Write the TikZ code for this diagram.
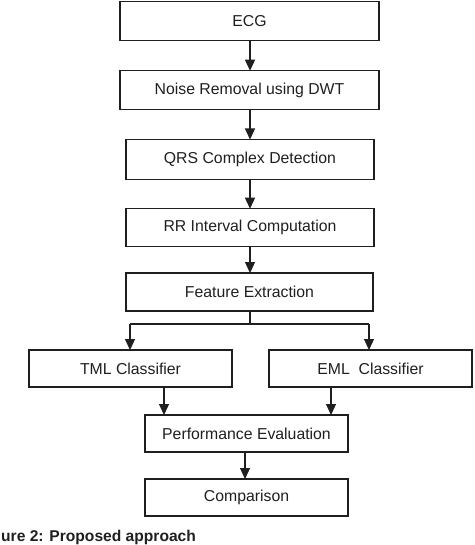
\documentclass[tikz,border=0pt]{standalone}
\usepackage{fontspec}
\setmainfont{Liberation Sans}
\usetikzlibrary{arrows.meta}
\begin{document}
\begin{tikzpicture}[x=1pt,y=-1pt,
  box/.style={draw=black!88,line width=1.2pt,inner sep=0pt,outer sep=0pt,font=\fontsize{15.8}{18}\selectfont,text=black!88},
  arr/.style={draw=black!88,line width=1.2pt,-{Triangle[length=11pt,width=10pt]}},
  ln/.style={draw=black!88,line width=1.2pt}]
\useasboundingbox (0,0) rectangle (474,545);
\node[box,minimum width=259pt,minimum height=38.5pt] (ecg) at (249.5,21) {ECG};
\node[box,minimum width=259pt,minimum height=38.5pt] (noise) at (249.5,90) {Noise Removal using DWT};
\node[box,minimum width=248pt,minimum height=40pt] (qrs) at (250,159.5) {QRS Complex Detection};
\node[box,minimum width=248pt,minimum height=37.5pt] (rr) at (250,227.5) {RR Interval Computation};
\node[box,minimum width=247pt,minimum height=38pt] (feat) at (249.5,292) {Feature Extraction};
\node[box,minimum width=203pt,minimum height=37pt] (tml) at (130.5,368.5) {TML Classifier};
\node[box,minimum width=203pt,minimum height=37pt] (eml) at (370.5,368.5) {EML\ \ Classifier};
\node[box,minimum width=203pt,minimum height=37pt] (perf) at (246.5,433.5) {Performance Evaluation};
\node[box,minimum width=203pt,minimum height=37pt] (comp) at (246.5,497.5) {Comparison};
\node[anchor=base west,inner sep=0pt,font=\bfseries\fontsize{15.6}{18}\selectfont,text=black!88] (cap) at (1,541) {ure 2: Proposed approach};
\coordinate (fx) at (250,0);
\coordinate (sp) at (250,324);
\coordinate (lx) at (130,0);
\coordinate (rx) at (369,0);
\coordinate (t1) at (164,0);
\coordinate (e1) at (331,0);
\coordinate (p1) at (245,0);
\draw[arr] (fx |- ecg.south) -- (fx |- noise.north);
\draw[arr] (fx |- noise.south) -- (fx |- qrs.north);
\draw[arr] (qrs.south) -- (rr.north);
\draw[arr] (rr.south) -- (feat.north -| fx);
\draw[ln] (feat.south -| fx) -- (sp);
\draw[arr] (sp -| lx) -- (lx |- tml.north);
\draw[arr] (sp -| rx) -- (rx |- eml.north);
\draw[ln] (sp -| lx) -- (sp -| rx);
\draw[arr] (t1 |- tml.south) -- (t1 |- perf.north);
\draw[arr] (e1 |- eml.south) -- (e1 |- perf.north);
\draw[arr] (p1 |- perf.south) -- (p1 |- comp.north);
\end{tikzpicture}
\end{document}
